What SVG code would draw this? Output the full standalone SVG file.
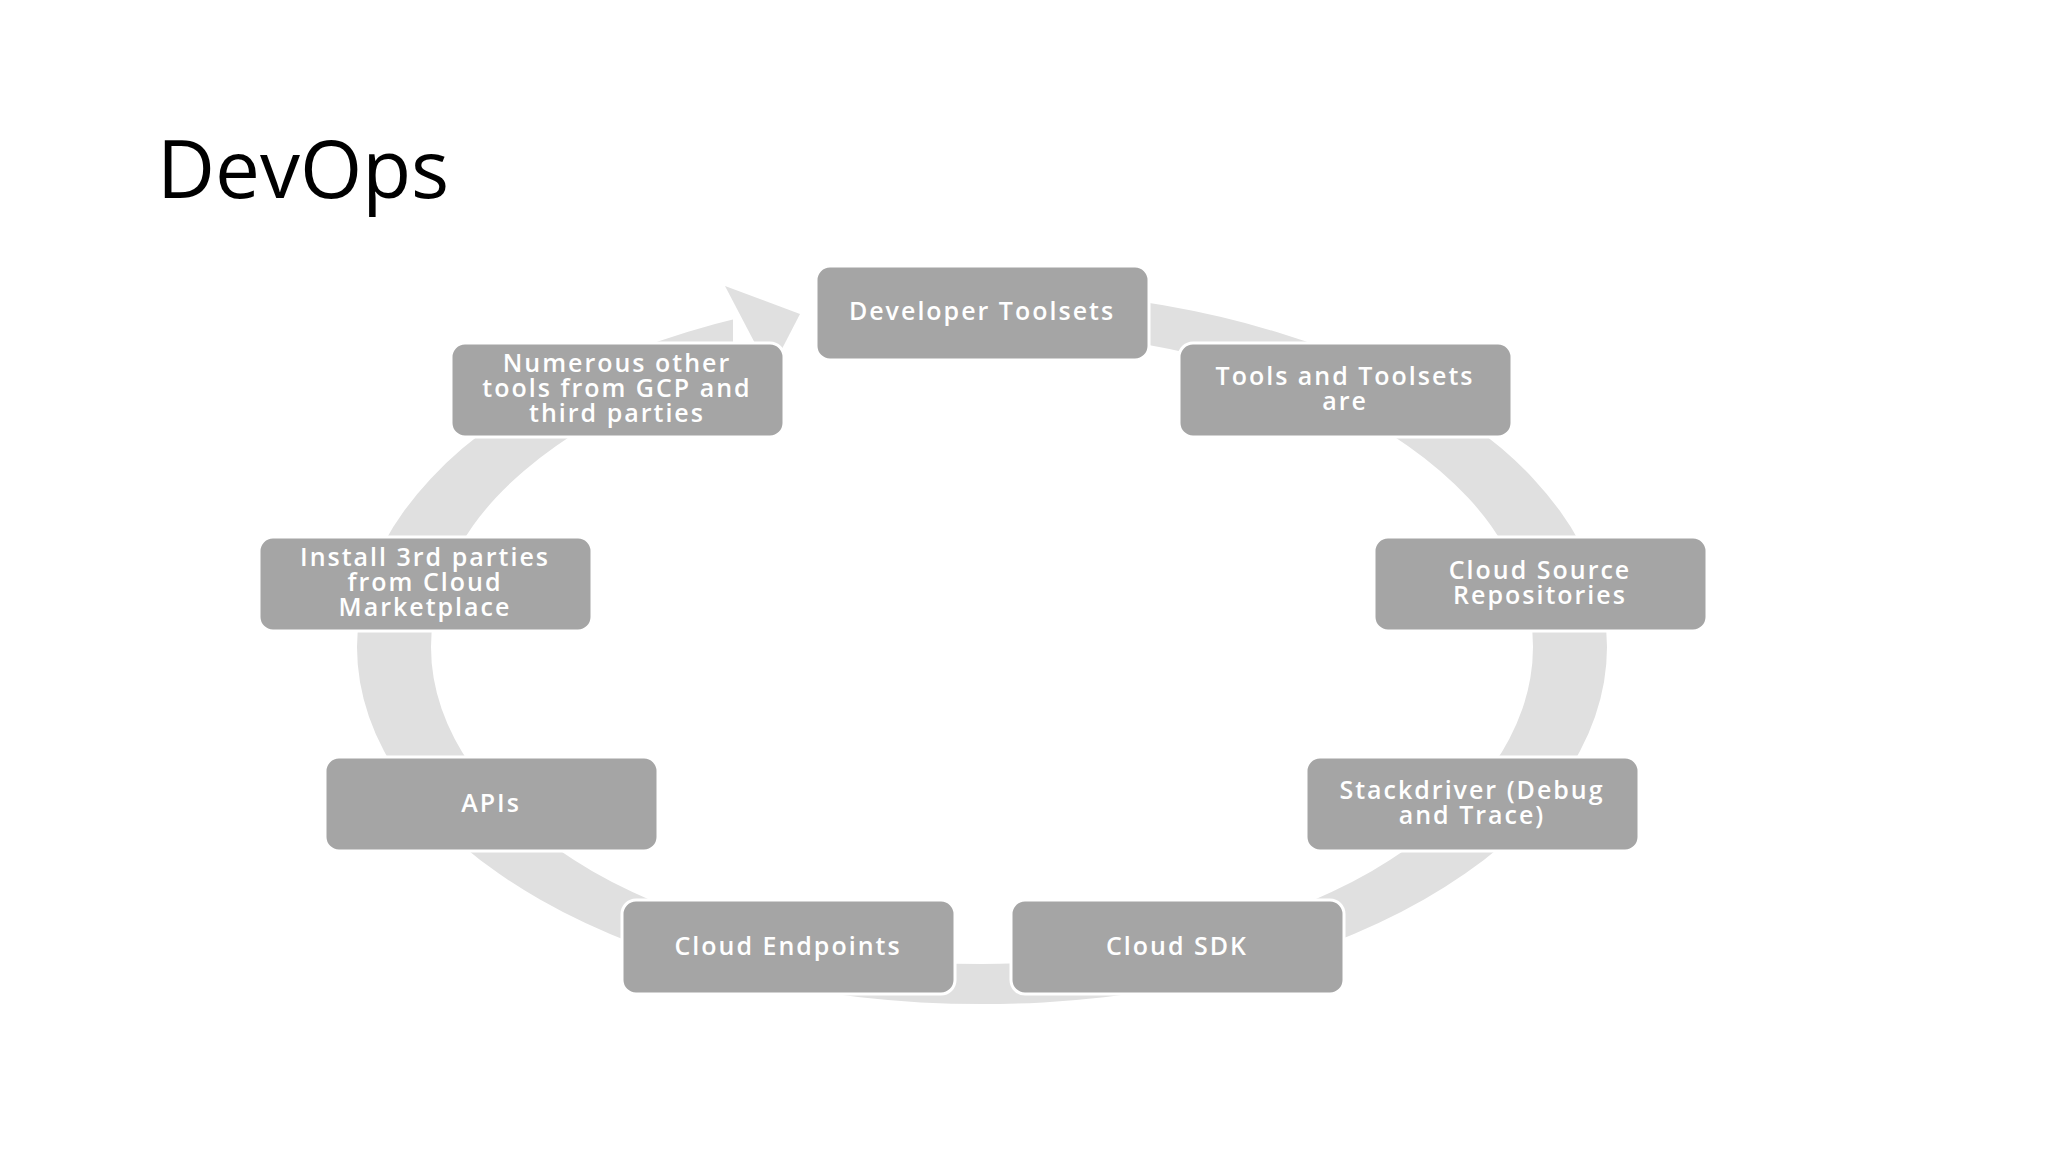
<svg xmlns="http://www.w3.org/2000/svg" width="2048" height="1152" viewBox="0 0 2048 1152">
<style>
.b{fill:#a5a5a5;stroke:#fff;stroke-width:3}
.t{font-family:"Open Sans","Liberation Sans",sans-serif;font-size:25px;font-weight:600;fill:#fff;text-anchor:middle;letter-spacing:2px}
</style>
<rect width="2048" height="1152" fill="#fff"/>
<text x="157" y="198" font-family="'Open Sans','Liberation Sans',sans-serif" font-size="80" fill="#000">DevOps</text>
<g id="connectors">
<path d="M357,647a625,357 0 1,0 1250,0a625,357 0 1,0 -1250,0z M431,647a551,317 0 1,0 1102,0a551,317 0 1,0 -1102,0z" fill="#e0e0e0" fill-rule="evenodd"/>
<rect x="733" y="260" width="85" height="120" fill="#fff"/>
<polygon points="725,286 800,314 770,372" fill="#e0e0e0"/>
</g>
<g id="n1"><rect class="b" x="816" y="266" width="333" height="94" rx="14"/><text class="t" x="982" y="320">Developer Toolsets</text></g>
<g id="n2"><rect class="b" x="1179" y="343" width="333" height="94" rx="14"/><text class="t" x="1345" y="385">Tools and Toolsets</text><text class="t" x="1345" y="410">are</text></g>
<g id="n3"><rect class="b" x="1374" y="537" width="333" height="94" rx="14"/><text class="t" x="1540" y="579">Cloud Source</text><text class="t" x="1540" y="604">Repositories</text></g>
<g id="n4"><rect class="b" x="1306" y="757" width="333" height="94" rx="14"/><text class="t" x="1472" y="799">Stackdriver (Debug</text><text class="t" x="1472" y="824">and Trace)</text></g>
<g id="n5"><rect class="b" x="1011" y="900" width="333" height="94" rx="14"/><text class="t" x="1177" y="955">Cloud SDK</text></g>
<g id="n6"><rect class="b" x="622" y="900" width="333" height="94" rx="14"/><text class="t" x="788" y="955">Cloud Endpoints</text></g>
<g id="n7"><rect class="b" x="325" y="757" width="333" height="94" rx="14"/><text class="t" x="491" y="812">APIs</text></g>
<g id="n8"><rect class="b" x="259" y="537" width="333" height="94" rx="14"/><text class="t" x="425" y="566">Install 3rd parties</text><text class="t" x="425" y="591">from Cloud</text><text class="t" x="425" y="616">Marketplace</text></g>
<g id="n9"><rect class="b" x="451" y="343" width="333" height="94" rx="14"/><text class="t" x="617" y="372">Numerous other</text><text class="t" x="617" y="397">tools from GCP and</text><text class="t" x="617" y="422">third parties</text></g>
</svg>
